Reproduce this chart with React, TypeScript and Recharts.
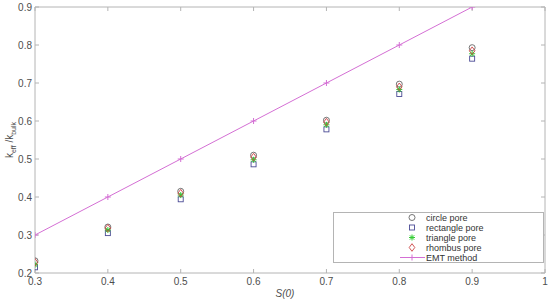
import React from 'react';
import {
    ComposedChart,
    Scatter,
    Line,
    XAxis,
    YAxis,
} from 'recharts';

const sValues = [0.3, 0.4, 0.5, 0.6, 0.7, 0.8, 0.9];
const circlePore = [0.232, 0.321, 0.415, 0.51, 0.602, 0.697, 0.793];
const rectanglePore = [0.215, 0.305, 0.394, 0.486, 0.578, 0.671, 0.764];
const trianglePore = [0.222, 0.313, 0.405, 0.498, 0.59, 0.683, 0.777];
const rhombusPore = [0.228, 0.318, 0.41, 0.505, 0.597, 0.69, 0.785];
const emtMethod = [0.3, 0.4, 0.5, 0.6, 0.7, 0.8, 0.9];

const xTicks = [0.3, 0.4, 0.5, 0.6, 0.7, 0.8, 0.9, 1];
const yTicks = [0.2, 0.3, 0.4, 0.5, 0.6, 0.7, 0.8, 0.9];

const toPoints = (ys: number[]) => sValues.map((x, i) => ({ x, y: ys[i] }));

const axisColor = '#b4b4b4';
const labelColor = '#4d4d4d';
const font = '"Liberation Sans", Arial, sans-serif';

const colors = {
    circle: '#666666',
    rectangle: '#4b4b95',
    triangle: '#33cc33',
    rhombus: '#cc4444',
    emt: '#d46fd4',
};

function MarkerGlyph({ kind, cx, cy }: { kind: string; cx: number; cy: number }) {
    if (kind === 'circle') {
        return <circle cx={cx} cy={cy} r={3} fill="none" stroke={colors.circle} strokeWidth={0.9} />;
    }
    if (kind === 'rectangle') {
        return (
            <rect x={cx - 2.5} y={cy - 2.5} width={5} height={5} fill="none" stroke={colors.rectangle} strokeWidth={0.9} />
        );
    }
    if (kind === 'triangle') {
        const c = colors.triangle;
        return (
            <g stroke={c} strokeWidth={1}>
                <line x1={cx - 3} y1={cy} x2={cx + 3} y2={cy} />
                <line x1={cx} y1={cy - 3} x2={cx} y2={cy + 3} />
                <line x1={cx - 2.2} y1={cy - 2.2} x2={cx + 2.2} y2={cy + 2.2} />
                <line x1={cx - 2.2} y1={cy + 2.2} x2={cx + 2.2} y2={cy - 2.2} />
            </g>
        );
    }
    if (kind === 'rhombus') {
        return (
            <polygon
                points={`${cx},${cy - 3.8} ${cx + 2.8},${cy} ${cx},${cy + 3.8} ${cx - 2.8},${cy}`}
                fill="none"
                stroke={colors.rhombus}
                strokeWidth={0.9}
            />
        );
    }
    return (
        <g stroke={colors.emt} strokeWidth={1}>
            <line x1={cx - 3} y1={cy} x2={cx + 3} y2={cy} />
            <line x1={cx} y1={cy - 3} x2={cx} y2={cy + 3} />
        </g>
    );
}

const shapeFor = (kind: string) => (props: any) =>
    <MarkerGlyph kind={kind} cx={props.cx} cy={props.cy} />;

const legendItems = [
    { kind: 'circle', label: 'circle pore' },
    { kind: 'rectangle', label: 'rectangle pore' },
    { kind: 'triangle', label: 'triangle pore' },
    { kind: 'rhombus', label: 'rhombus pore' },
    { kind: 'emt', label: 'EMT method' },
];

function LegendBox() {
    return (
        <svg
            width={211}
            height={51}
            style={{ position: 'absolute', left: 333, top: 212, display: 'block' }}
        >
            <rect x={0.5} y={0.5} width={210} height={50} fill="#fff" stroke={axisColor} />
            {legendItems.map((item, i) => {
                const cy = 5.5 + i * 10;
                return (
                    <g key={item.label}>
                        {item.kind === 'emt' && (
                            <line x1={67} y1={cy} x2={92} y2={cy} stroke={colors.emt} strokeWidth={1} />
                        )}
                        <MarkerGlyph kind={item.kind} cx={79} cy={cy} />
                        <text x={93} y={cy + 3.2} fontSize={9} fill="#333" fontFamily={font}>
                            {item.label}
                        </text>
                    </g>
                );
            })}
        </svg>
    );
}

function YLabel({ viewBox }: any) {
    const x = 13;
    const y = viewBox.y + viewBox.height / 2;
    return (
        <text
            x={x}
            y={y}
            transform={`rotate(-90, ${x}, ${y})`}
            textAnchor="middle"
            fontSize={10}
            fill={labelColor}
            fontFamily={font}
        >
            <tspan>k</tspan>
            <tspan fontSize={7} dy={3}>eff</tspan>
            <tspan dy={-3}> /k</tspan>
            <tspan fontSize={7} dy={3}>bulk</tspan>
        </text>
    );
}

function XLabel({ viewBox }: any) {
    return (
        <text
            x={viewBox.x + viewBox.width / 2 - 5}
            y={viewBox.y + 24}
            textAnchor="middle"
            fontSize={10}
            fontStyle="italic"
            fill={labelColor}
            fontFamily={font}
        >
            S(0)
        </text>
    );
}

export default function App() {
    const tickStyle = { fontSize: 10, fill: labelColor, fontFamily: font };
    return (
        <div style={{ position: 'absolute', left: 0, top: 0, width: 550, height: 303, background: '#fff' }}>
            <ComposedChart
                width={550}
                height={303}
                margin={{ top: 6, right: 4, left: 0, bottom: 0 }}
            >
                <XAxis
                    xAxisId="bottom"
                    dataKey="x"
                    type="number"
                    domain={[0.3, 1]}
                    ticks={xTicks}
                    tickFormatter={(v: number) => String(v)}
                    height={30}
                    stroke={axisColor}
                    tickSize={-4}
                    tickMargin={9}
                    tick={tickStyle}
                    allowDataOverflow
                    label={<XLabel />}
                />
                <XAxis
                    xAxisId="top"
                    orientation="top"
                    dataKey="x"
                    type="number"
                    domain={[0.3, 1]}
                    ticks={xTicks}
                    tickFormatter={() => ''}
                    height={1}
                    stroke={axisColor}
                    tickSize={-4}
                    allowDataOverflow
                />
                <YAxis
                    yAxisId="left"
                    type="number"
                    domain={[0.2, 0.9]}
                    ticks={yTicks}
                    tickFormatter={(v: number) => String(v)}
                    width={35}
                    stroke={axisColor}
                    tickSize={-4}
                    tickMargin={7}
                    tick={tickStyle}
                    allowDataOverflow
                    label={<YLabel />}
                />
                <YAxis
                    yAxisId="right"
                    orientation="right"
                    type="number"
                    domain={[0.2, 0.9]}
                    ticks={yTicks}
                    tickFormatter={() => ''}
                    width={1}
                    stroke={axisColor}
                    tickSize={-4}
                    allowDataOverflow
                />
                <Line
                    xAxisId="bottom"
                    yAxisId="left"
                    data={toPoints(emtMethod)}
                    dataKey="y"
                    name="EMT method"
                    stroke={colors.emt}
                    strokeWidth={1}
                    dot={shapeFor('emt')}
                    activeDot={false}
                    isAnimationActive={false}
                />
                <Scatter
                    xAxisId="top"
                    yAxisId="right"
                    data={toPoints(emtMethod)}
                    dataKey="y"
                    shape={() => <g />}
                    isAnimationActive={false}
                    legendType="none"
                />
                <Scatter
                    xAxisId="bottom"
                    yAxisId="left"
                    data={toPoints(circlePore)}
                    dataKey="y"
                    name="circle pore"
                    shape={shapeFor('circle')}
                    isAnimationActive={false}
                />
                <Scatter
                    xAxisId="bottom"
                    yAxisId="left"
                    data={toPoints(rectanglePore)}
                    dataKey="y"
                    name="rectangle pore"
                    shape={shapeFor('rectangle')}
                    isAnimationActive={false}
                />
                <Scatter
                    xAxisId="bottom"
                    yAxisId="left"
                    data={toPoints(trianglePore)}
                    dataKey="y"
                    name="triangle pore"
                    shape={shapeFor('triangle')}
                    isAnimationActive={false}
                />
                <Scatter
                    xAxisId="bottom"
                    yAxisId="left"
                    data={toPoints(rhombusPore)}
                    dataKey="y"
                    name="rhombus pore"
                    shape={shapeFor('rhombus')}
                    isAnimationActive={false}
                />
            </ComposedChart>
            <LegendBox />
        </div>
    );
}
